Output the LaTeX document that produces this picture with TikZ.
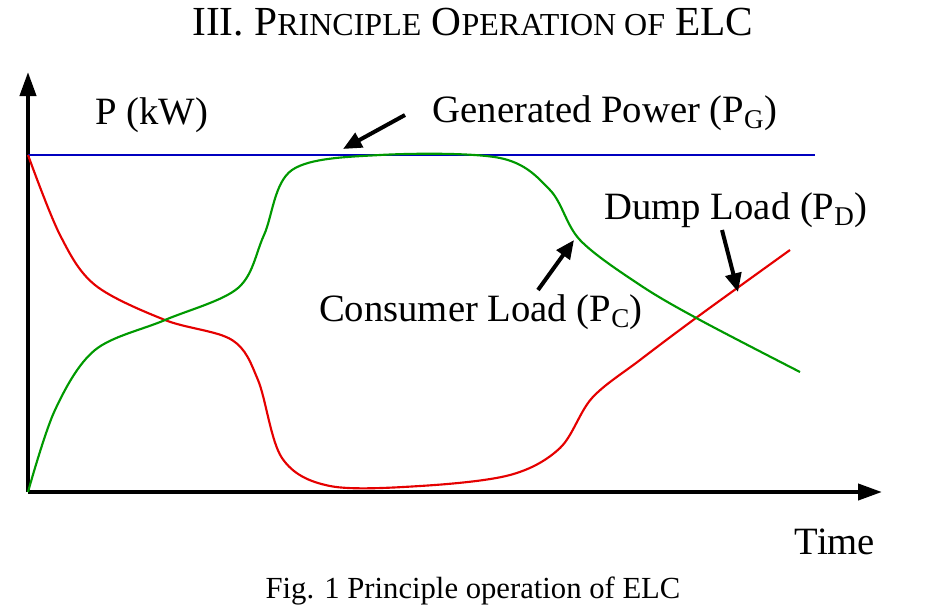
\documentclass[tikz,border=0pt]{standalone}
\usepackage{fontspec}
\setmainfont{Liberation Serif}
\usetikzlibrary{arrows.meta}
\newcommand{\fsc}[1]{{\fontsize{24}{26}\selectfont #1}}
\begin{document}
\begin{tikzpicture}[x=0.75pt,y=-0.75pt,
  lbl/.style={font=\fontsize{29}{32}\selectfont,inner sep=0pt},
  axis/.style={line width=3pt,-{Triangle[length=18pt,width=12pt]}},
  curve/.style={line width=1.6pt},
  pointer/.style={line width=3pt,-{Triangle[length=14pt,width=12pt]}}]
\useasboundingbox (0,0) rectangle (929,608);
\clip (0,0) rectangle (929,608);
\node[lbl,font=\fontsize{31}{34}\selectfont] (title) at (473,22) {III. P\fsc{RINCIPLE} O\fsc{PERATION OF} ELC};
\coordinate (o) at (28,492);
\coordinate (ytop) at (28,72);
\coordinate (xend) at (882,492);
\draw[axis] (o) -- (ytop);
\draw[axis] (o) -- (xend);
\coordinate (b1) at (28,155); \coordinate (b2) at (815,155);
\draw[blue!75!black,line width=2pt] (b1) -- (b2);
\draw[red!90!black,curve] plot[smooth,tension=0.55] coordinates {(28,155) (60,235) (95,285) (165,320) (232,340) (258,380) (282,458) (330,486) (420,486) (510,475) (560,448) (592,398) (640,360) (700,315) (790,250)};
\draw[green!60!black,curve] plot[smooth,tension=0.55] coordinates {(28,492) (55,410) (95,350) (165,320) (238,288) (264,235) (292,170) (380,155) (500,158) (550,190) (580,240) (640,285) (700,320) (800,372)};
\node[lbl] (pkw) at (152,115) {P (kW)};
\node[lbl] (gen) at (605,113) {Generated Power (P\textsubscript{G})};
\node[lbl] (dump) at (736,210) {Dump Load (P\textsubscript{D})};
\node[lbl] (cons) at (481,312) {Consumer Load (P\textsubscript{C})};
\node[lbl] (time) at (835,542) {Time};
\node[lbl,font=\fontsize{23}{26}\selectfont] (cap) at (473,591) {Fig. 1 Principle operation of ELC};
\coordinate (g1) at (405,115); \coordinate (g2) at (343,149);
\coordinate (c1) at (538,290); \coordinate (c2) at (574,240);
\coordinate (d1) at (722,230); \coordinate (d2) at (738,292);
\draw[pointer] (g1) -- (g2);
\draw[pointer] (c1) -- (c2);
\draw[pointer] (d1) -- (d2);
\end{tikzpicture}
\end{document}
